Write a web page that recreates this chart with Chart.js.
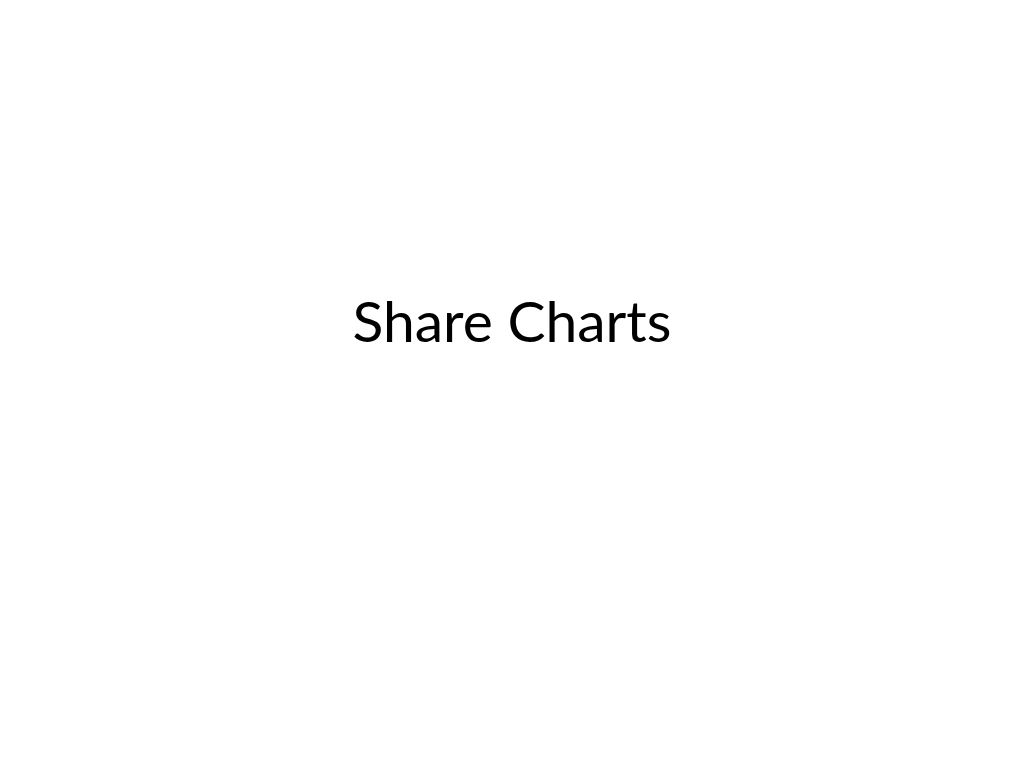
<!DOCTYPE html>
<html>
<head>
<meta charset="utf-8">
<script src="https://cdn.jsdelivr.net/npm/chart.js@4"></script>
<style>
html,body{margin:0;padding:0;background:#fff;}
#wrap{width:1024px;height:768px;}
</style>
</head>
<body>
<div id="wrap"><canvas id="c" width="1024" height="768"></canvas></div>
<script>
const titleText = "Share Charts";
const categories = [];
const values = [];

new Chart(document.getElementById('c'), {
  type: 'bar',
  data: { labels: categories, datasets: [{ data: values }] },
  options: {
    responsive: false,
    animation: false,
    devicePixelRatio: 1,
    layout: { padding: 0 },
    plugins: {
      legend: { display: false },
      tooltip: { enabled: false },
      title: {
        display: true,
        text: titleText,
        color: '#000000',
        font: { family: 'Lato', size: 57, weight: 'normal', lineHeight: 1.2 },
        padding: { top: 289, bottom: 0 }
      }
    },
    scales: { x: { display: false }, y: { display: false } }
  }
});
</script>
</body>
</html>
